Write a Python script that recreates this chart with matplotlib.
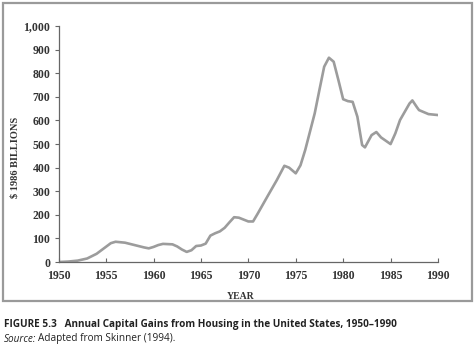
import matplotlib
matplotlib.use('Agg')
import matplotlib.pyplot as plt
from matplotlib.patches import Rectangle

# Valores (miles de millones de dolares de 1986)
years = [1950, 1951, 1952, 1953, 1954, 1955, 1955.5, 1956, 1957, 1958, 1959,
         1959.5, 1960, 1960.5, 1961, 1962, 1962.5, 1963, 1963.5, 1964,
         1964.5, 1965, 1965.5, 1966, 1966.5, 1967, 1967.5, 1968, 1968.5,
         1969, 1970, 1970.5, 1971, 1972, 1973, 1973.8, 1974.3, 1975, 1975.5,
         1976, 1977, 1977.5, 1978, 1978.5, 1979, 1979.5, 1980, 1980.5, 1981,
         1981.5, 1982, 1982.3, 1983, 1983.5, 1984, 1985, 1985.5, 1986, 1987,
         1987.3, 1987.8, 1988, 1989, 1990]
gains = [0, 2, 6, 15, 35, 65, 80, 86, 82, 72, 62,
         58, 64, 72, 77, 75, 66, 53, 43, 50,
         68, 70, 78, 112, 122, 130, 145, 168, 190,
         188, 172, 172, 206, 277, 347, 408, 400, 376, 410,
         475, 630, 730, 828, 866, 849, 771, 690, 682, 679,
         616, 496, 486, 538, 551, 528, 500, 545, 602, 672,
         685, 655, 644, 627, 623]

x_ticks = list(range(1950, 1991, 5))
y_ticks = list(range(0, 1001, 100))
y_labels = ['{:,}'.format(v) for v in y_ticks]

serif = 'Liberation Serif'
sans = 'Open Sans'

fig = plt.figure(figsize=(4.74, 3.48), dpi=100)

# Marco gris alrededor del grafico
fig.patches.append(Rectangle((3 / 474, 1 - 301 / 348), 469 / 474, 298 / 348,
                             transform=fig.transFigure, fill=False,
                             edgecolor='#9a9a9a', linewidth=1.6))

ax = fig.add_axes([0.1238, 0.247, 0.8002, 0.678])
ax.plot(years, gains, color='#9c9c9c', linewidth=1.9, solid_joinstyle='round',
        solid_capstyle='round')

ax.set_xlim(1950, 1990)
ax.set_ylim(0, 1000)
ax.set_xticks(x_ticks)
ax.set_yticks(y_ticks)
ax.set_yticklabels(y_labels)

for s in ['top', 'right']:
    ax.spines[s].set_visible(False)
for s in ['left', 'bottom']:
    ax.spines[s].set_color('#666666')
    ax.spines[s].set_linewidth(0.9)

ax.tick_params(axis='y', direction='out', length=3, width=0.8, color='#666666',
               pad=3, labelsize=8.5)
ax.tick_params(axis='x', direction='in', length=3, width=0.8, color='#666666',
               pad=6, labelsize=8.5)
for lab in ax.get_xticklabels() + ax.get_yticklabels():
    lab.set_fontfamily(serif)
    lab.set_fontweight('bold')
    lab.set_color('#333333')

ax.set_xlabel('YEAR', fontfamily=serif, fontweight='bold', fontsize=7,
              color='#333333')
ax.set_ylabel('$ 1986 BILLIONS', fontfamily=serif, fontweight='bold',
              fontsize=7.5, color='#333333')
ax.xaxis.set_label_coords(0.48, -0.127)
ax.yaxis.set_label_coords(-0.102, 0.445)

fig.text(4 / 474, 1 - 324 / 348, 'FIGURE 5.3   Annual Capital Gains from Housing in the United States, 1950\u20131990',
         fontfamily=sans, fontweight='bold', fontsize=7.2, color='#222222',
         va='center')
src = fig.text(4 / 474, 1 - 339 / 348, 'Source:', fontfamily=sans,
               fontstyle='italic', fontsize=7.2, color='#222222', va='center')
fig.canvas.draw()
bb = src.get_window_extent()
fig.text(bb.x1 / fig.bbox.width + 0.004, 1 - 339 / 348,
         'Adapted from Skinner (1994).', fontfamily=sans, fontsize=7.2,
         color='#222222', va='center')

fig.savefig('out.png', dpi=100)
